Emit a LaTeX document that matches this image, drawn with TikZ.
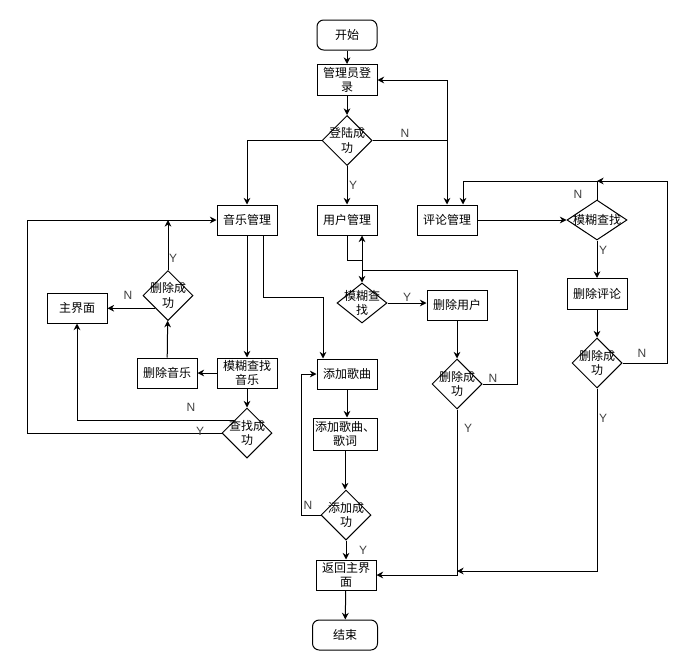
\documentclass[tikz,border=0pt]{standalone}
\usepackage{fontspec}
\setmainfont{Liberation Sans}
\newfontfamily\cjk{Noto Sans CJK SC}
\usetikzlibrary{shapes.geometric,arrows.meta}
\definecolor{labelgrey}{RGB}{64,64,64}

\tikzset{
  every node/.style={font=\cjk\fontsize{9}{11}\selectfont},
  proc/.style={draw, align=center, minimum width=45pt, minimum height=22.5pt, inner sep=1pt},
  term/.style={proc, rounded corners=5pt},
  decision/.style={draw, diamond, inner sep=0pt, minimum width=37.5pt, minimum height=37.5pt},
  dectext/.style={align=center, inner sep=0pt},
  yn/.style={font=\fontsize{9}{11}\selectfont, text=labelgrey, inner sep=0pt},
  arr/.style={-{Stealth[length=5pt,width=5pt]}},
}

\begin{document}
\begin{tikzpicture}[x=0.75pt, y=-0.75pt, line width=0.75pt]
\useasboundingbox (0,0) rectangle (696,671);

% Start and login
\node[term] (start) at (347,35) {开始};
\node[proc, minimum height=23.25pt] (login) at (347,80) {管理员登\\录};
\node[decision] (ok1) at (347,140.5) {};
\node[dectext] at (ok1) {登陆成\\功};

% Three management boxes
\node[proc] (music) at (247,220) {音乐管理};
\node[proc] (user) at (347,220) {用户管理};
\node[proc] (comment) at (447,220) {评论管理};

% Comment branch
\node[decision, minimum width=45pt, minimum height=30pt] (findc) at (597,220) {};
\node[dectext] at (findc) {模糊查找};
\node[proc, minimum height=23.25pt] (delc) at (597,294) {删除评论};
\node[decision] (okc) at (597,363) {};
\node[dectext] at (okc) {删除成\\功};

% Music branch
\node[proc] (home) at (77,308) {主界面};
\node[decision] (okm) at (168,295.5) {};
\node[dectext] at (okm) {删除成\\功};
\node[proc] (delm) at (167,373) {删除音乐};
\node[proc] (findm) at (247,373) {模糊查找\\音乐};
\node[decision] (foundm) at (247,433) {};
\node[dectext] at (foundm) {查找成\\功};

% User branch
\node[decision, minimum height=30pt] (findu) at (362,303) {};
\node[dectext] at (findu) {模糊查\\找};
\node[proc] (delu) at (457,305) {删除用户};
\node[decision] (oku) at (457,384) {};
\node[dectext] at (oku) {删除成\\功};

% Adding songs
\node[proc] (add) at (347,374) {添加歌曲};
\node[proc, minimum width=48pt, minimum height=24pt] (addl) at (345,434) {添加歌曲、\\歌词};
\node[decision] (oka) at (346,515) {};
\node[dectext] at (oka) {添加成\\功};

% Return and end
\node[proc] (back) at (346,575) {返回主界\\面};
\node[term, minimum width=48.75pt] (end) at (345,635) {结束};

% Top connectors
\draw[arr] (start) -- (login);
\draw[arr] (login) -- (ok1);
\draw[arr] (ok1.west) -| (music.north);
\draw[arr] (ok1) -- (user);
\draw (ok1.east) -- (447,140.5) coordinate (j1);
\draw[arr] (j1) |- (login.east);
\draw[arr] (j1) -- (comment.north);

% Comment connectors
\draw[arr] (comment) -- (findc);
\draw (findc.north) -- (597,181) coordinate (c1);
\draw[arr] (c1) -| ([xshift=12pt]comment.north);
\draw[arr] (findc) -- (delc);
\draw[arr] (delc) -- (okc);
\draw[arr] (okc.east) -- (667,363) |- (c1);
\draw[arr] (okc.south) |- (457,571) coordinate (r1);

% Music connectors
\draw[arr] (music) -- (findm);
\draw[arr] (findm) -- (delm);
\draw[arr] (delm) -- (okm);
\draw[arr] (okm.north) -- (okm.north |- music.west);
\draw[arr] (okm.225) -- (okm.225 -| home.east);
\draw[arr] (findm) -- (foundm);
\draw[arr] (foundm.137) -| (home.south);
\draw[arr] (foundm.west) -- (27,433) |- (music.west);
\draw[arr] ([xshift=12pt]music.south) |- (323,297) -- ([xshift=-18pt]add.north);

% User connectors
\draw[arr] (user.south) -- (347,260) -| (findu.north);
\draw[arr] (oku.east) -- (517,384) |- (362,270) -- (findu.north |- user.south);
\draw[arr] (findu.east) -- (findu.east -| delu.west);
\draw[arr] (delu) -- (oku);
\draw[arr] (oku.south) |- (back.east);

% Adding connectors
\draw[arr] (add.south) -- (add.south |- addl.north);
\draw[arr] (addl.south) -- (addl.south |- oka.north);
\draw[arr] (oka.west) -- (301,515) |- (add.west);
\draw[arr] (oka) -- (back);
\draw[arr] (back) -- (end);

% Add Y/N labels
\node[yn] (n1) at (405,133) {N};
\node[yn] (y1) at (353,185) {Y};
\node[yn] (n2) at (578,194) {N};
\node[yn] (y2) at (603,250) {Y};
\node[yn] (n3) at (642,353) {N};
\node[yn] (y3) at (603,418) {Y};
\node[yn] (y4) at (173,258) {Y};
\node[yn] (n4) at (128,295) {N};
\node[yn] (n5) at (191,407) {N};
\node[yn] (y5) at (200,431) {Y};
\node[yn] (y6) at (407,297) {Y};
\node[yn] (n6) at (493,378) {N};
\node[yn] (y7) at (468,428) {Y};
\node[yn] (n7) at (308,505) {N};
\node[yn] (y8) at (363,550) {Y};
\end{tikzpicture}
\end{document}
